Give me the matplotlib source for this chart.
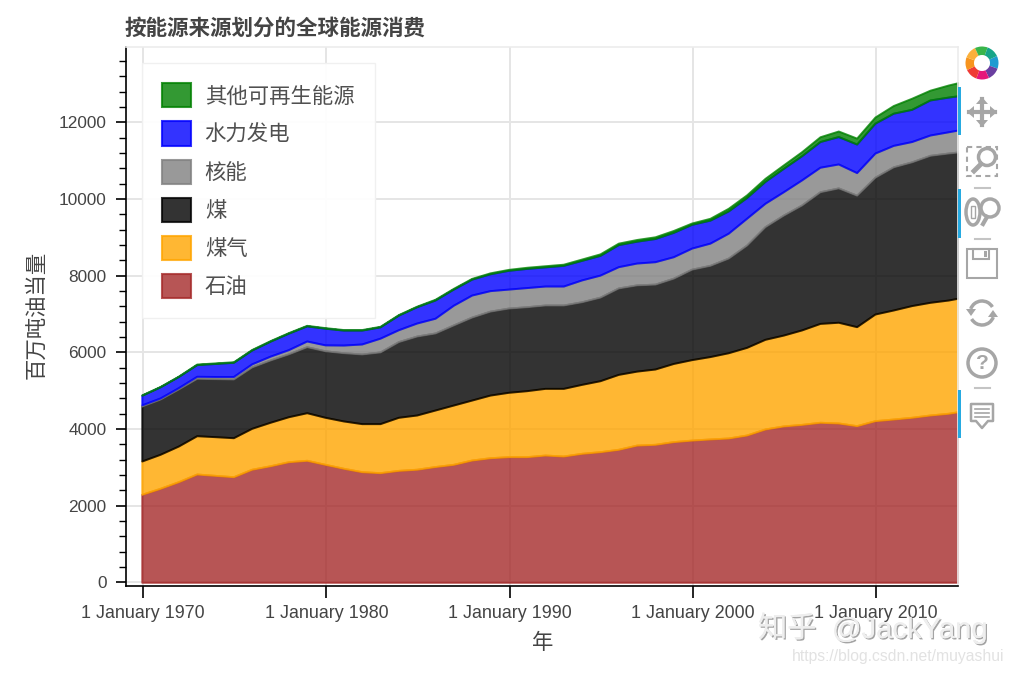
import numpy as np
import matplotlib
matplotlib.use("Agg")
import matplotlib.pyplot as plt
from matplotlib.patches import Patch, Wedge, Rectangle, Circle, Ellipse, Polygon, Arc
from matplotlib.lines import Line2D
from matplotlib.ticker import MultipleLocator
import matplotlib.patheffects as pe

plt.rcParams['font.family'] = ['Liberation Sans', 'Noto Sans CJK SC', 'DejaVu Sans']
CJK = ['Noto Sans CJK SC', 'DejaVu Sans']

years = list(range(1970, 2016))
# cumulative tops of the stacked layers (Mtoe)
oil_top = [2296,2452,2625,2825,2790,2755,2950,3040,3146,3183,3078,2975,2886,2860,2920,2950,3020,3078,3190,3250,3278,3278,3320,3295,3365,3408,3470,3580,3600,3670,3710,3740,3765,3843,4000,4080,4120,4175,4157,4087,4217,4260,4305,4365,4410,4485]
gas_top = [3165,3340,3556,3825,3800,3773,4018,4175,4320,4425,4305,4210,4140,4140,4305,4365,4495,4625,4755,4885,4957,5000,5060,5060,5165,5260,5425,5510,5565,5710,5810,5890,5990,6130,6340,6450,6585,6755,6785,6670,7000,7105,7220,7305,7365,7455]
coal_top = [4600,4780,5045,5322,5313,5304,5620,5800,5960,6147,6040,5990,5957,6010,6280,6425,6505,6715,6920,7075,7155,7190,7235,7235,7320,7440,7680,7760,7780,7935,8170,8270,8460,8800,9280,9580,9845,10190,10290,10100,10570,10840,10970,11140,11200,11250]
nuclear_top = [4630,4810,5080,5375,5370,5370,5700,5900,6070,6296,6195,6190,6218,6370,6590,6765,6890,7230,7495,7610,7650,7690,7730,7730,7890,8015,8235,8330,8365,8495,8720,8850,9110,9500,9890,10190,10500,10830,10915,10690,11200,11400,11500,11670,11755,11840]
hydro_top = [4880,5100,5370,5680,5710,5740,6060,6290,6500,6690,6630,6580,6580,6665,6970,7190,7365,7650,7910,8050,8140,8190,8230,8270,8400,8530,8810,8900,8970,9130,9340,9450,9690,10040,10460,10800,11130,11500,11630,11435,11980,12240,12340,12585,12660,12725]
other_top = [4890,5110,5380,5695,5725,5755,6075,6305,6515,6705,6645,6595,6595,6680,6985,7205,7385,7670,7930,8075,8165,8220,8260,8300,8435,8570,8850,8945,9015,9180,9375,9498,9760,10110,10540,10890,11236,11625,11775,11590,12140,12440,12630,12840,12975,13090]
labels = ['石油', '煤气', '煤', '核能', '水力发电', '其他可再生能源']
colors = ['brown', 'orange', 'black', 'gray', 'blue', 'green']
tick_years = [1970, 1980, 1990, 2000, 2010]
tick_labels = ['1 January 1970', '1 January 1980', '1 January 1990', '1 January 2000', '1 January 2010']

W, H = 1013, 675
fig = plt.figure(figsize=(W / 100, H / 100), dpi=100, facecolor='white')
L, R, T, B = 126, 958, 47, 586
ax = fig.add_axes([L / W, 1 - B / H, (R - L) / W, (B - T) / H])
ax.set_xlim(1969.07, 2014.46)
ax.set_ylim(-96, 13967)
ax.set_axisbelow(True)
ax.grid(True, color='#e5e5e5', lw=1.4)

tops = [oil_top, gas_top, coal_top, nuclear_top, hydro_top, other_top]
lower = np.zeros(len(years))
x = np.array(years) - 0.07
for top, c in zip(tops, colors):
    top = np.array(top, float)
    ax.fill_between(x, lower, top, facecolor=matplotlib.colors.to_rgba(c, 0.8),
                    edgecolor=matplotlib.colors.to_rgba(c, 0.8), lw=1.4)
    lower = top

ax.set_xticks(tick_years, tick_labels)
ax.yaxis.set_major_locator(MultipleLocator(2000))
ax.yaxis.set_minor_locator(MultipleLocator(400))
ax.tick_params(axis='x', which='major', length=8.5, width=1.2, color='black', labelsize=12.9, labelcolor='#444444', pad=5)
ax.tick_params(axis='y', which='major', length=7, width=1.2, color='black', labelsize=12.4, labelcolor='#444444', pad=7)
ax.tick_params(axis='y', which='minor', length=5, width=1.0, color='black')
for s in ['top', 'right']:
    ax.spines[s].set_color('#ececec')
    ax.spines[s].set_linewidth(1.2)
for s in ['left', 'bottom']:
    ax.spines[s].set_color('black')
    ax.spines[s].set_linewidth(1.2)

handles = [Patch(facecolor=matplotlib.colors.to_rgba(c, 0.8), edgecolor=matplotlib.colors.to_rgba(c, 0.8), lw=1.5, label=l)
           for c, l in zip(colors, labels)][::-1]
leg = ax.legend(handles=handles, loc='upper left',
                bbox_to_anchor=((142 - L) / (R - L), 1 - (63 - T) / (B - T)), borderaxespad=0,
                prop={'family': CJK, 'size': 15.4}, labelcolor='#505050', handlelength=1.36, handleheight=1.36,
                labelspacing=0.65, borderpad=0.95, handletextpad=0.62, fancybox=False,
                edgecolor='#f0f0f0', framealpha=0.95)

fig.text(125 / W, 1 - 28 / H, '按能源来源划分的全球能源消费', family=CJK, fontsize=15.5, fontweight='bold',
         color='#444444', va='center', ha='left')
fig.text(543 / W, 1 - 643 / H, '年', family=CJK, fontsize=15.4, color='#444444', ha='center', va='center')
fig.text(36 / W, 1 - 315 / H, '百万吨油当量', family=CJK, fontsize=15.4, color='#444444', rotation=90, ha='center', va='center')

# overlay in pixel coordinates: toolbar and watermark
ov = fig.add_axes([0, 0, 1, 1], facecolor='none')
ov.set_xlim(0, W); ov.set_ylim(H, 0); ov.axis('off')
G = '#a6a6a6'
for y0, y1 in [(87, 135), (189, 238), (390, 438)]:
    ov.add_patch(Rectangle((958, y0), 2.5, y1 - y0, color='#26aae1', lw=0))
for y in [188, 239, 388]:
    ov.add_line(Line2D([975, 990], [y, y], color='#c4c4c4', lw=1.5))
# logo
logo = ['#1f9bd1', '#6a3fa0', '#e6177a', '#ef3b36', '#f7941e', '#fbb03b', '#39b54a', '#17a589']
for i, c in enumerate(logo):
    a = -25 + i * 45
    ov.add_patch(Wedge((982, 63), 16.5, a, a + 45, width=8.5, color=c, lw=0))
# pan
ov.add_line(Line2D([969, 995], [112, 112], color=G, lw=3))
ov.add_line(Line2D([982, 982], [99, 125], color=G, lw=3))
for p in [[(982, 97), (976, 104), (988, 104)], [(982, 127), (976, 120), (988, 120)],
          [(967, 112), (974, 106), (974, 118)], [(997, 112), (990, 106), (990, 118)]]:
    ov.add_patch(Polygon(p, color=G, lw=0))
# box zoom
ov.add_patch(Rectangle((967, 147), 30, 29, fill=False, ec=G, lw=1.5, ls=(0, (2.5, 2))))
ov.add_patch(Circle((987, 157), 8.5, fc='white', ec=G, lw=2.5))
ov.add_line(Line2D([981, 974], [164, 171], color=G, lw=3.5))
# wheel zoom
ov.add_patch(Ellipse((973, 212), 14, 26, fill=False, ec=G, lw=2.5))
ov.add_patch(Rectangle((971, 206), 4, 12, fill=False, ec=G, lw=1))
ov.add_patch(Circle((990, 208), 9, fill=False, ec=G, lw=2.5))
ov.add_line(Line2D([987, 983], [217, 224], color=G, lw=3))
# save
ov.add_patch(Rectangle((967, 249), 30, 29, fill=False, ec=G, lw=1.5))
ov.add_patch(Rectangle((973, 249), 16, 10, fill=False, ec=G, lw=1.5))
ov.add_patch(Rectangle((984, 251), 3, 6, color=G, lw=0))
# reset
ov.add_patch(Arc((982, 313), 24, 24, theta1=200, theta2=330, ec=G, lw=2.5))
ov.add_patch(Arc((982, 313), 24, 24, theta1=20, theta2=150, ec=G, lw=2.5))
ov.add_patch(Polygon([(966, 309), (976, 309), (971, 316)], color=G, lw=0))
ov.add_patch(Polygon([(988, 317), (998, 317), (993, 310)], color=G, lw=0))
# help
ov.add_patch(Circle((982, 363), 14, fill=False, ec=G, lw=2.5))
ov.text(982, 363.5, '?', color=G, fontsize=15, fontweight='bold', ha='center', va='center')
# comment
ov.add_patch(Polygon([(971, 404), (993, 404), (993, 421), (988, 421), (982, 428), (976, 421), (971, 421)],
                     fill=False, ec=G, lw=1.8, joinstyle='round'))
for y in [409, 413, 417]:
    ov.add_line(Line2D([975, 989], [y, y], color=G, lw=1.2))

# watermark
shadow = [pe.withSimplePatchShadow(offset=(1, -1), shadow_rgbFace='#9a9a9a', alpha=0.9), pe.Normal()]
ov.text(758, 629, '知乎', family=CJK, fontsize=21, color='#eeeeee', ha='left', va='center', path_effects=shadow)
ov.text(832, 630, '@JackYang', family=['Liberation Sans'], fontsize=21, color='#eeeeee', ha='left', va='center', path_effects=shadow)
ov.text(792, 657, 'https://blog.csdn.net/muyashui', family=['Liberation Sans'], fontsize=11.3, color='#e2e2e2', ha='left', va='center')

fig.savefig('out.png', dpi=100, facecolor='white')
